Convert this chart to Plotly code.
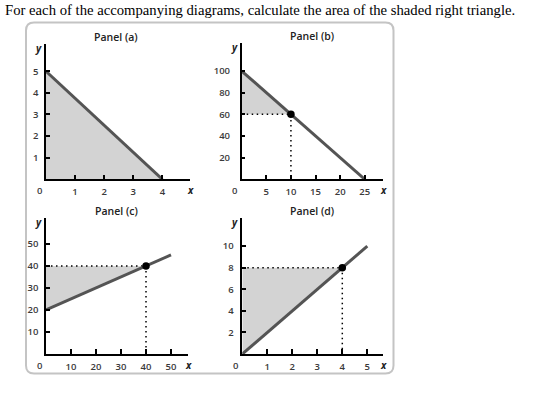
import plotly.graph_objects as go

W, H = 558, 395

# ---- data ----
a_line_x = [0, 4]
a_line_y = [5, 0]
a_tri_x = [0, 0, 4]
a_tri_y = [0, 5, 0]
a_xticks = [1, 2, 3, 4]
a_yticks = [1, 2, 3, 4, 5]

b_line_x = [0, 25]
b_line_y = [100, 0]
b_point = (10, 60)
b_tri_x = [0, 0, 10]
b_tri_y = [100, 60, 60]
b_xticks = [5, 10, 15, 20, 25]
b_yticks = [20, 40, 60, 80, 100]

c_line_x = [0, 50]
c_line_y = [20, 45]
c_point = (40, 40)
c_tri_x = [0, 0, 40]
c_tri_y = [20, 40, 40]
c_xticks = [10, 20, 30, 40, 50]
c_yticks = [10, 20, 30, 40, 50]

d_line_x = [0, 5]
d_line_y = [0, 10]
d_point = (4, 8)
d_tri_x = [0, 0, 4]
d_tri_y = [0, 8, 8]
d_xticks = [1, 2, 3, 4, 5]
d_yticks = [2, 4, 6, 8, 10]

titles = ["Panel (a)", "Panel (b)", "Panel (c)", "Panel (d)"]
heading = "For each of the accompanying diagrams, calculate the area of the shaded right triangle."

# ---- layout helpers (pixel -> paper) ----
def px(x):
    return x / W

def py(y):
    return 1 - y / H

LINE = "#545454"
FILL = "#d3d3d3"
TICKFONT = dict(family="Open Sans", size=9.5, color="#3a3a3a", weight=600)

panels = [
    dict(xd=(46, 190), yd=(44, 179.3), xr=4.95, yr=6.26, xt=a_xticks, yt=a_yticks,
         lx=a_line_x, ly=a_line_y, tx=a_tri_x, ty=a_tri_y, pt=None, sy=4),
    dict(xd=(241.7, 383), yd=(43.3, 179.3), xr=28.7, yr=125.6, xt=b_xticks, yt=b_yticks,
         lx=b_line_x, ly=b_line_y, tx=b_tri_x, ty=b_tri_y, pt=b_point, sy=8),
    dict(xd=(46, 188), yd=(218, 354), xr=56.8, yr=61.8, xt=c_xticks, yt=c_yticks,
         lx=c_line_x, ly=c_line_y, tx=c_tri_x, ty=c_tri_y, pt=c_point, sy=4),
    dict(xd=(242.3, 383.3), yd=(218.3, 354), xr=5.64, yr=12.58, xt=d_xticks, yt=d_yticks,
         lx=d_line_x, ly=d_line_y, tx=d_tri_x, ty=d_tri_y, pt=d_point, sy=5),
]

fig = go.Figure()
layout = dict(
    width=W, height=H, margin=dict(l=0, r=0, t=0, b=0),
    paper_bgcolor="white", plot_bgcolor="rgba(0,0,0,0)", showlegend=False,
)

annotations = []
for i, p in enumerate(panels):
    n = i + 1
    xa = "x" if n == 1 else f"x{n}"
    ya = "y" if n == 1 else f"y{n}"
    fig.add_trace(go.Scatter(x=p["tx"], y=p["ty"], fill="toself", fillcolor=FILL,
                             mode="lines", line=dict(width=0), xaxis=xa, yaxis=ya,
                             hoverinfo="skip"))
    if p["pt"] is not None:
        x0, y0 = p["pt"]
        fig.add_trace(go.Scatter(x=[0, x0, x0], y=[y0, y0, 0], mode="lines",
                                 line=dict(color="black", width=1.5, dash="1.5px,3.5px"),
                                 xaxis=xa, yaxis=ya))
    fig.add_trace(go.Scatter(x=p["lx"], y=p["ly"], mode="lines",
                             line=dict(color=LINE, width=3), xaxis=xa, yaxis=ya))
    if p["pt"] is not None:
        fig.add_trace(go.Scatter(x=[p["pt"][0]], y=[p["pt"][1]], mode="markers",
                                 marker=dict(color="black", size=7.5), xaxis=xa, yaxis=ya,
                                 cliponaxis=False))
    xkey = "xaxis" if n == 1 else f"xaxis{n}"
    ykey = "yaxis" if n == 1 else f"yaxis{n}"
    layout[xkey] = dict(
        domain=[px(p["xd"][0]), px(p["xd"][1])], range=[0, p["xr"]], anchor=ya,
        showline=True, linecolor="black", linewidth=1.5, showgrid=False, zeroline=False,
        ticks="inside", ticklen=5, tickwidth=1.5, tickcolor="black",
        tickvals=p["xt"], tickfont=TICKFONT, ticklabelstandoff=3, fixedrange=True,
    )
    layout[ykey] = dict(
        domain=[py(p["yd"][1]), py(p["yd"][0])], range=[0, p["yr"]], anchor=xa,
        showline=True, linecolor="black", linewidth=1.5, showgrid=False, zeroline=False,
        ticks="inside", ticklen=4, tickwidth=1.5, tickcolor="black",
        tickvals=p["yt"], tickfont=TICKFONT, ticklabelstandoff=p["sy"], fixedrange=True,
    )
    cx = p["xd"][0] + 70
    annotations.append(dict(text=titles[i], x=px(cx), y=py(p["yd"][0] - 7),
                            xref="paper", yref="paper", showarrow=False,
                            xanchor="center", yanchor="middle",
                            font=dict(family="Open Sans", size=10.5, color="#222", weight=600)))
    bottom = p["yd"][1]
    annotations.append(dict(text="0", x=px(p["xd"][0] - 6.5), y=py(bottom + 11),
                            xref="paper", yref="paper", showarrow=False,
                            xanchor="center", yanchor="middle", font=TICKFONT))
    annotations.append(dict(text="<i>x</i>", x=px(p["xd"][1]), y=py(bottom + 11),
                            xref="paper", yref="paper", showarrow=False,
                            xanchor="center", yanchor="middle",
                            font=dict(family="Open Sans", size=10, color="#222", weight=700)))
    annotations.append(dict(text="<i>y</i>", x=px(p["xd"][0] - 7.5), y=py(p["yd"][0] + 4),
                            xref="paper", yref="paper", showarrow=False,
                            xanchor="center", yanchor="middle",
                            font=dict(family="Open Sans", size=10, color="#222", weight=700)))

annotations.append(dict(text=heading, x=px(3), y=1, xref="paper", yref="paper",
                        showarrow=False, xanchor="left", yanchor="top",
                        font=dict(family="Liberation Serif", size=14.7, color="black")))
layout["annotations"] = annotations

def rounded(x0, y0, x1, y1, r):
    pts = [
        f"M {px(x0 + r)},{py(y0)}", f"L {px(x1 - r)},{py(y0)}",
        f"Q {px(x1)},{py(y0)} {px(x1)},{py(y0 + r)}", f"L {px(x1)},{py(y1 - r)}",
        f"Q {px(x1)},{py(y1)} {px(x1 - r)},{py(y1)}", f"L {px(x0 + r)},{py(y1)}",
        f"Q {px(x0)},{py(y1)} {px(x0)},{py(y1 - r)}", f"L {px(x0)},{py(y0 + r)}",
        f"Q {px(x0)},{py(y0)} {px(x0 + r)},{py(y0)}", "Z",
    ]
    return " ".join(pts)

layout["shapes"] = [dict(type="path", path=rounded(26, 22.5, 393.5, 373.5, 8),
                         xref="paper", yref="paper",
                         line=dict(color="#c4c4c4", width=2), layer="below")]

fig.update_layout(**layout)
fig.write_html("out.html", config={"displayModeBar": False})
